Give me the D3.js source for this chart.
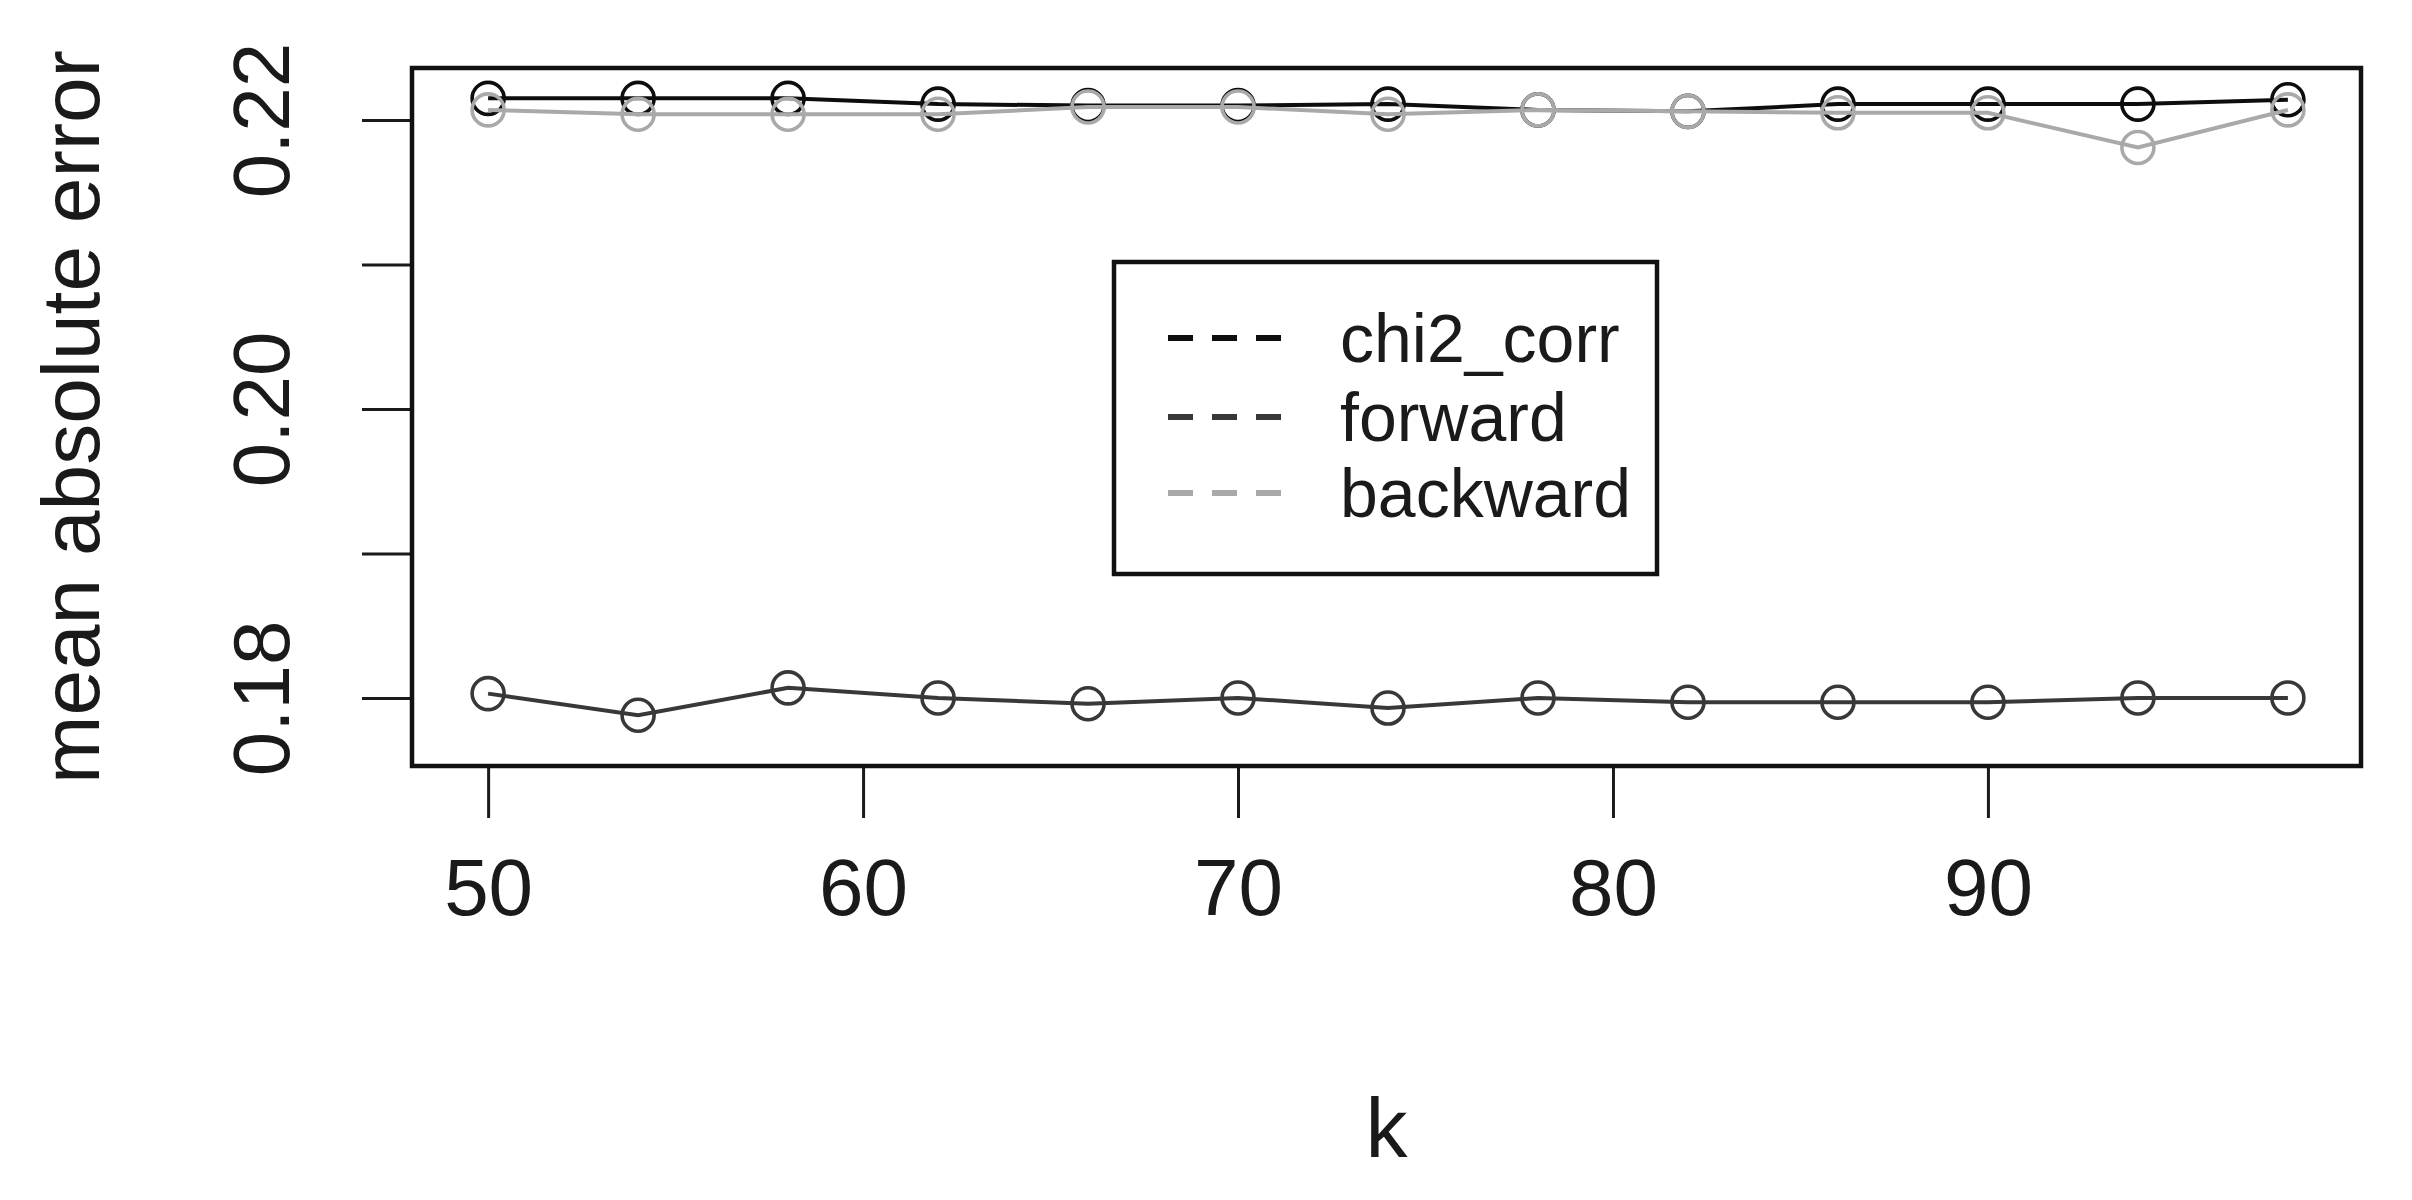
<!DOCTYPE html>
<html>
<head>
<meta charset="utf-8">
<script src="https://cdn.jsdelivr.net/npm/d3@7"></script>
<style>
  html, body { margin: 0; padding: 0; background: #fff; }
  svg { display: block; }
  text { font-family: "Liberation Sans", Arial, sans-serif; fill: #1a1a1a; }
</style>
</head>
<body>
<svg id="chart" width="2412" height="1200"></svg>
<script>
// ---- data ----
const kValues = [50, 54, 58, 62, 66, 70, 74, 78, 82, 86, 90, 94, 98];
const chi2Corr = [0.2215, 0.2215, 0.2215, 0.2211, 0.2210, 0.2210, 0.2211, 0.2207, 0.2206, 0.2211, 0.2211, 0.2211, 0.2214];
const forward  = [0.1803, 0.1788, 0.1807, 0.1800, 0.1796, 0.1800, 0.1793, 0.1800, 0.1797, 0.1797, 0.1797, 0.1800, 0.1800];
const backward = [0.2207, 0.2204, 0.2204, 0.2204, 0.2209, 0.2209, 0.2204, 0.2207, 0.2206, 0.2205, 0.2205, 0.2181, 0.2207];
const seriesNames = ["chi2_corr", "forward", "backward"];
const xTicks = [50, 60, 70, 80, 90];
const yTicks = [0.18, 0.19, 0.20, 0.21, 0.22];
const yTickLabels = ["0.18", "", "0.20", "", "0.22"];
const xTitle = "k";
const yTitle = "mean absolute error";

// ---- layout ----
const L = 412, R = 2361, T = 68, B = 766;
const svg = d3.select("#chart");
const x = d3.scaleLinear().domain([47.97, 99.95]).range([L, R]);
const y = d3.scaleLinear().domain([0.17529, 0.22360]).range([B, T]);

const colors = { "chi2_corr": "#0d0d0d", "forward": "#383838", "backward": "#a9a9a9" };
const seriesData = { "chi2_corr": chi2Corr, "forward": forward, "backward": backward };

// axes
const xAxis = d3.axisBottom(x).tickValues(xTicks).tickSize(52).tickFormat(d3.format("d")).tickPadding(40);
const gx = svg.append("g").attr("transform", `translate(0,${B})`).call(xAxis);
gx.select(".domain").remove();
gx.selectAll(".tick line").attr("stroke", "#1a1a1a").attr("stroke-width", 3);
gx.selectAll(".tick text").attr("font-size", 80).attr("font-family", "Liberation Sans, Arial, sans-serif").attr("fill", "#1a1a1a");

const yAxis = d3.axisLeft(y).tickValues(yTicks).tickSize(50).tickFormat((d, i) => yTickLabels[i]);
const gy = svg.append("g").attr("transform", `translate(${L},0)`).call(yAxis);
gy.select(".domain").remove();
gy.selectAll(".tick line").attr("stroke", "#1a1a1a").attr("stroke-width", 3);
gy.selectAll(".tick text")
  .attr("font-size", 80)
  .attr("font-family", "Liberation Sans, Arial, sans-serif")
  .attr("fill", "#1a1a1a")
  .attr("x", null).attr("dy", null)
  .attr("text-anchor", "middle")
  .attr("transform", "translate(-123,0) rotate(-90)");

// series lines + points
const line = d3.line().x(d => x(d[0])).y(d => y(d[1]));
seriesNames.forEach(name => {
  const pts = kValues.map((k, i) => [k, seriesData[name][i]]);
  const g = svg.append("g");
  g.append("path").datum(pts).attr("d", line)
    .attr("fill", "none").attr("stroke", colors[name]).attr("stroke-width", 4);
  g.selectAll("circle").data(pts).join("circle")
    .attr("cx", d => x(d[0])).attr("cy", d => y(d[1])).attr("r", 16)
    .attr("fill", "none").attr("stroke", colors[name]).attr("stroke-width", 3.6);
});

// plot box
svg.append("rect").attr("x", L).attr("y", T).attr("width", R - L).attr("height", B - T)
  .attr("fill", "none").attr("stroke", "#111").attr("stroke-width", 4.5);

// axis titles
svg.append("text").attr("x", (L + R) / 2).attr("y", 1157).attr("text-anchor", "middle")
  .attr("font-size", 84).text(xTitle);
svg.append("text").attr("transform", `translate(99,${(T + B) / 2}) rotate(-90)`)
  .attr("text-anchor", "middle").attr("font-size", 82).text(yTitle);

// legend
const lg = svg.append("g");
const lx = 1114, ly = 262, lw = 543, lh = 312;
lg.append("rect").attr("x", lx).attr("y", ly).attr("width", lw).attr("height", lh)
  .attr("fill", "#fff").attr("stroke", "#111").attr("stroke-width", 4.5);
const rowY = [338, 417, 493];
seriesNames.forEach((name, i) => {
  lg.append("line").attr("x1", 1168).attr("x2", 1281).attr("y1", rowY[i]).attr("y2", rowY[i])
    .attr("stroke", colors[name]).attr("stroke-width", 6).attr("stroke-dasharray", "25,19");
  lg.append("text").attr("x", 1340).attr("y", rowY[i]).attr("dy", "0.35em")
    .attr("font-size", 68).text(name);
});
</script>
</body>
</html>
